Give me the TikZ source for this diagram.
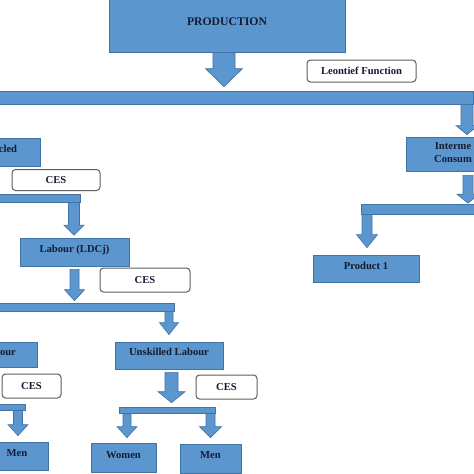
\documentclass[tikz,border=0pt]{standalone}
\usepackage{fontspec}
\setmainfont{Liberation Serif}
\usetikzlibrary{calc}
\definecolor{boxblue}{RGB}{91,150,207}
\definecolor{boxedge}{RGB}{66,115,165}
\definecolor{cesedge}{RGB}{95,95,95}
\definecolor{txt}{RGB}{22,28,48}
\pgfdeclarelayer{back}
\pgfdeclarelayer{arr}
\pgfsetlayers{back,arr,main}
\tikzset{
  bluebox/.style={draw=boxedge, fill=boxblue, line width=0.7pt, inner sep=0pt, text=txt,
    font=\fontsize{10.6}{11.5}\selectfont\bfseries, text height=7.5pt},
  cesbox/.style={draw=cesedge, fill=white, line width=1pt, rounded corners=3.5pt, inner sep=0pt,
    text=txt, font=\fontsize{10.6}{12}\selectfont\bfseries},
  barsty/.style={draw=boxedge, fill=boxblue, line width=0.6pt, inner sep=0pt},
  arrowsty/.style={draw=boxedge, fill=boxblue, line width=0.6pt},
}
% #1 src, #2 x, #3 tgt, #4 tip gap, #5 start gap, #6 shaft half, #7 head half, #8 head len
\newcommand\barrow[8]{%
  \begin{pgfonlayer}{arr}
  \filldraw[arrowsty] let \p1=(#1.south), \p2=(#3.north), \p3=(#2,0) in
    (\x3-#6pt,\y1-#5pt) -- (\x3-#6pt,\y2+#4pt+#8pt) -- (\x3-#7pt,\y2+#4pt+#8pt) --
    (\x3,\y2+#4pt) -- (\x3+#7pt,\y2+#4pt+#8pt) -- (\x3+#6pt,\y2+#4pt+#8pt) --
    (\x3+#6pt,\y1-#5pt) -- cycle;
  \end{pgfonlayer}}
\begin{document}
\begin{tikzpicture}[x=1pt,y=-1pt]
\useasboundingbox (0,0) rectangle (474,474);
\begin{pgfonlayer}{back}
\fill[white] (0,0) rectangle (474,474);
\end{pgfonlayer}

% boxes
\node[bluebox, minimum width=236pt, minimum height=60pt, text depth=0.5pt,
  font=\fontsize{11.7}{12}\selectfont\bfseries] (prod) at (227,22) {PRODUCTION};
\node[cesbox, minimum width=109pt, minimum height=22pt] (leon) at (361.5,71) {Leontief Function};
\node[bluebox, minimum width=64pt, minimum height=28pt, text depth=7.5pt] (vadd) at (8,152) {cled};
\node[bluebox, minimum width=94pt, minimum height=34pt, align=center, text height=17pt,
  font=\fontsize{10.6}{12.5}\selectfont\bfseries] (inter) at (453,154) {Interme\\Consum};
\node[cesbox, minimum width=88pt, minimum height=21pt] (ces1) at (56,180) {CES};
\node[bluebox, minimum width=109pt, minimum height=28pt, text depth=6.5pt] (labour) at (74.5,252) {Labour (LDCj)};
\node[cesbox, minimum width=90pt, minimum height=24pt] (ces2) at (145,280) {CES};
\node[bluebox, minimum width=106pt, minimum height=27pt, text depth=5.5pt] (product) at (366,268.5) {Product 1};
\node[bluebox, minimum width=58pt, minimum height=25pt, text depth=6pt] (skilled) at (8,354.5) {our};
\node[bluebox, minimum width=108pt, minimum height=27pt, text depth=7.5pt] (unskilled) at (169,355.5) {Unskilled Labour};
\node[cesbox, minimum width=59pt, minimum height=24pt] (ces3) at (31.5,386) {CES};
\node[cesbox, minimum width=61pt, minimum height=24pt] (ces4) at (226.5,387) {CES};
\node[bluebox, minimum width=62pt, minimum height=28pt, text depth=7.5pt] (menL) at (17,456) {Men};
\node[bluebox, minimum width=65pt, minimum height=29pt, text depth=5.5pt] (women) at (123.5,457.5) {Women};
\node[bluebox, minimum width=61pt, minimum height=29pt, text depth=7.5pt] (menR) at (210.5,458.5) {Men};

% bars
\node[barsty, minimum width=478pt, minimum height=13pt] (bar1) at (234,97.5) {};
\node[barsty, minimum width=85pt, minimum height=8pt] (bar2) at (37.5,198) {};
\node[barsty, minimum width=179pt, minimum height=8pt] (bar3) at (84.5,307) {};
\node[barsty, minimum width=30pt, minimum height=6pt] (bar4) at (10,407) {};
\node[barsty, minimum width=96pt, minimum height=6pt] (bar5) at (167,410) {};
\node[barsty, minimum width=119pt, minimum height=10pt] (bar6) at (420.5,209) {};

% block arrows
\barrow{prod}{224}{bar1}{4}{-1}{11}{18.5}{18}
\barrow{bar1}{467}{inter}{2}{-1}{6}{11}{9}
\barrow{inter}{468}{bar6}{0.5}{4}{5}{11}{9}
\barrow{bar6}{367}{product}{7}{-1}{5}{10.5}{13}
\barrow{bar2}{74}{labour}{2.5}{-1}{5.5}{10}{10}
\barrow{labour}{74.5}{bar3}{2}{3}{4.5}{10}{11}
\barrow{bar3}{169}{unskilled}{7}{-1}{4}{9.5}{12}
\barrow{unskilled}{171.5}{bar5}{4}{3}{6.5}{13.5}{11}
\barrow{bar4}{18}{menL}{6}{-1}{4.5}{10}{11}
\barrow{bar5}{127}{women}{5}{-1}{4}{10}{11}
\barrow{bar5}{210.5}{menR}{6}{-1}{4.5}{11}{11}
\end{tikzpicture}
\end{document}
